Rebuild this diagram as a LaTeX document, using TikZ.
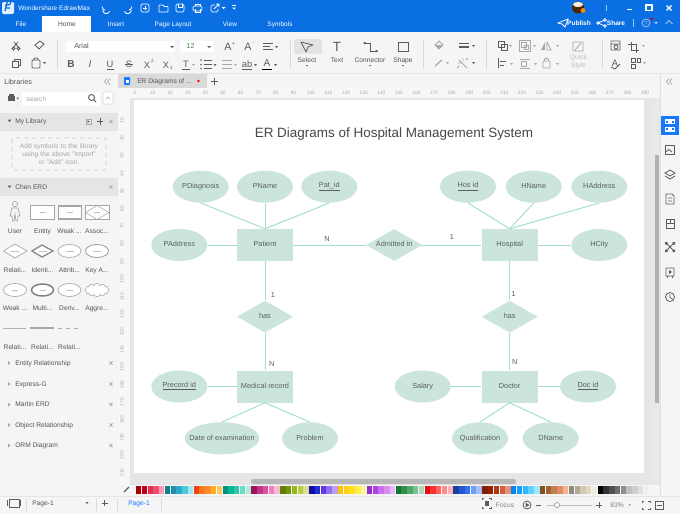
\documentclass[tikz,border=0pt]{standalone}
\usepackage{fontspec}
\setmainfont{Liberation Sans}
\usetikzlibrary{shapes.geometric,shapes.symbols}
\newcommand{\elps}{.{}.{}.}
\newcommand{\lbl}[1]{\makebox[0pt]{\raisebox{-0.6pt}{\vphantom{Pg}#1}}}
\definecolor{bluebar}{HTML}{0A6FE3}
\definecolor{selblue}{HTML}{1677FF}
\definecolor{panel}{HTML}{F5F5F5}
\definecolor{canvasgray}{HTML}{E6E6E6}
\definecolor{erfill}{HTML}{CBE5DE}
\definecolor{erline}{HTML}{A3DDCD}
\definecolor{ertext}{HTML}{5A5F5E}
\definecolor{uitext}{HTML}{555555}
\definecolor{icon}{HTML}{5C5C5C}
\definecolor{iconlight}{HTML}{A8A8A8}
\tikzset{
  x=0.75pt,y=-0.75pt,
  attrib/.style={ellipse,fill=erfill,minimum width=42pt,minimum height=24pt,inner sep=0pt,text=ertext,font=\fontsize{5.5}{6.5}\selectfont},
  wideattrib/.style={attrib,minimum width=56pt},
  entity/.style={rectangle,fill=erfill,minimum width=42pt,minimum height=24pt,inner sep=0pt,text=ertext,font=\fontsize{5.5}{6.5}\selectfont},
  relation/.style={diamond,aspect=1.75,fill=erfill,minimum width=42pt,minimum height=24pt,inner sep=0pt,text=ertext,font=\fontsize{5.5}{6.5}\selectfont},
  link/.style={draw=erline,line width=0.7pt},
  card/.style={text=ertext,font=\fontsize{5.5}{6.5}\selectfont,inner sep=0pt},
  whitelab/.style={text=white,font=\fontsize{4.9}{6}\selectfont,inner sep=0pt,text height=3.6pt,text depth=0.4pt},
  uilab/.style={text=uitext,font=\fontsize{5}{6}\selectfont,inner sep=0pt,text height=3.6pt,text depth=0.4pt},
  leftlab/.style={uilab,anchor=west},
  rulerlab/.style={text=iconlight,font=\fontsize{3.6}{4}\selectfont,inner sep=0pt},
  ic/.style={draw=icon,line width=0.6pt,fill=none},
  icl/.style={draw=iconlight,line width=0.6pt,fill=none},
  icw/.style={draw=white,line width=0.6pt,fill=none},
  sep/.style={draw=black!15,line width=0.4pt},
  glyph/.style={text=icon,inner sep=0pt,font=\fontsize{7}{8}\selectfont},
  thin sym/.style={draw=black!35,line width=0.5pt,fill=white},
}
\begin{document}
\begin{tikzpicture}
\useasboundingbox (0,0) rectangle (680,514);
% ---------- window base
\fill[panel] (0,0) rectangle (680,514);
\fill[canvasgray] (130,98) rectangle (660,497);
\fill[white] (134,100) rectangle (644,473);
% vertical scroll
\fill[black!9] (651,98) rectangle (660,480);
\fill[black!30] (655,155) rectangle (659,403);
% horizontal scroll
\fill[black!28,rounded corners=1.5pt] (251,479) rectangle (516,484);
% ---------- blue bar
\fill[bluebar] (0,0) rectangle (680,32);
\fill[white] (42,16) rectangle (91,32);
\fill[white!88!bluebar,rounded corners=1pt] (2,2) rectangle (14,14);
\draw[draw=bluebar,line width=1pt] (5,5) -- (8,5) arc (90:-90:3) -- (5,11) (6,8) -- (10,8);
\node[whitelab,anchor=west] (tapp) at (18,8) {Wondershare EdrawMax};
\foreach \t/\px [count=\i] in {File/21,Insert/116,Page Layout/173,View/230,Symbols/280}
  \node[whitelab] (tab\i) at (\px,24) {\t};
\node[uilab] (tabhome) at (67,24) {Home};
% quick access icons
\draw[icw] (103,9) arc (200:20:3.5) (103,9) -- (105,10) (103,9) -- (102,6.5);
\draw[icw] (131,9) arc (-20:160:3.5) (131,9) -- (129,10) (131,9) -- (132,6.5);
\draw[icw,rounded corners=1pt] (141,4) rectangle (149,12);
\draw[icw] (143,8) -- (147,8) (145,6) -- (145,10);
\draw[icw,rounded corners=0.5pt] (159,5) -- (163,5) -- (164,6.5) -- (168,6.5) -- (168,12) -- (159,12) -- cycle;
\draw[icw,rounded corners=1pt] (176,4) rectangle (184,12);
\draw[icw] (178,4) -- (178,7) -- (182,7) -- (182,4);
\draw[icw,rounded corners=1pt] (193,6) rectangle (202,11);
\draw[icw] (195,6) -- (195,4) -- (200,4) -- (200,6) (195,9) -- (195,12) -- (200,12) -- (200,9);
\draw[icw,rounded corners=1pt] (215,5) -- (211,5) -- (211,12) -- (218,12) -- (218,9);
\draw[icw] (214,9) -- (219,4) (216,4) -- (219,4) -- (219,7);
\fill[white] (221.5,7) -- (225.5,7) -- (223.5,9) -- cycle;
\fill[white] (232,7.5) -- (236,7.5) -- (234,9.5) -- cycle;
\draw[icw] (232,5.5) -- (236,5.5);
% user
\fill[black!70!orange] (578,7.5) circle[radius=6];
\fill[white!85!orange] (578,4.5) ellipse[x radius=5,y radius=2.6];
\fill[orange!90!yellow] (583,10.5) circle[radius=2.4];
% window controls
\draw[draw=white!60!bluebar,line width=0.6pt] (606,5) -- (606,11);
\draw[draw=white,line width=0.9pt] (627,9.5) -- (632,9.5);
\draw[draw=white,line width=0.8pt] (646,5) rectangle (652,10.5);
\draw[draw=white,line width=0.9pt] (666.5,5.5) -- (671.5,10.5) (671.5,5.5) -- (666.5,10.5);
% publish etc
\draw[icw] (558,23) -- (568,19) -- (565,27) -- (562,24) -- cycle;
\node[whitelab,font=\bfseries\fontsize{4.9}{6}\selectfont] (tpub) at (579,23) {Publish};
\draw[icw] (598,23) -- (605,20) (598,23) -- (605,26);
\draw[icw] (598,23) circle[radius=1.4] (605,20) circle[radius=1.4] (605,26) circle[radius=1.4];
\node[whitelab,font=\bfseries\fontsize{4.9}{6}\selectfont] (tshare) at (616,23) {Share};
\draw[draw=white!60!bluebar,line width=0.6pt] (633,19) -- (633,27);
\draw[draw=white!60!bluebar,line width=0.6pt] (646,23) circle[radius=4];
\node[rulerlab,font=\fontsize{4.5}{5}\selectfont,text=white!60!bluebar] (tq) at (646,23) {?};
\fill[red!85!black] (651.5,19) circle[radius=1.5];
\fill[white!70!bluebar] (654,22) -- (658,22) -- (656,24) -- cycle;
\draw[draw=white!60!bluebar,line width=0.7pt] (665.5,24) -- (669,20.5) -- (672.5,24);
% ---------- ribbon
\fill[panel] (0,32) rectangle (680,73);
\draw[draw=black!10,line width=0.4pt] (0,73) -- (680,73);
\foreach \sx in {57,290,423,486,602} \draw[sep] (\sx,40) -- (\sx,69);
% clipboard icons
\draw[ic] (14,42) -- (19,48) (18,42) -- (13,48) (13.5,48.5) circle[radius=1.5] (18.5,48.5) circle[radius=1.5];
\draw[ic] (35,45) -- (40,41) -- (44,44) -- (39,49) -- cycle (39,49) -- (37,47);
\draw[ic] (12,61) rectangle (18,67) (14,61) -- (14,59) -- (20,59) -- (20,65) -- (18,65);
\draw[ic,rounded corners=0.7pt] (32,60) rectangle (40,68) (34,60) -- (34,58) -- (38,58) -- (38,60);
\fill[icon] (43,62) -- (46,62) -- (44.5,64) -- cycle;
% font boxes
\fill[white] (67,41) rectangle (175,52);
\fill[white] (180,41) rectangle (214,52);
\node[leftlab,font=\fontsize{5.4}{7}\selectfont] (ffont) at (74,46.5) {Arial};
\node[uilab,font=\fontsize{5.4}{7}\selectfont,text=black!45!green!40!gray] (fsize) at (190.5,46.5) {12};
\fill[icon] (170,46) -- (174,46) -- (172,48) -- cycle;
\fill[icon] (207,46) -- (211,46) -- (209,48) -- cycle;
\node[glyph,font=\fontsize{8}{9}\selectfont] (fa1) at (228,47) {A};
\node[glyph,font=\fontsize{4}{5}\selectfont] (fa1p) at (233.5,43.5) {+};
\node[glyph,font=\fontsize{8}{9}\selectfont] (fa2) at (248,47) {A};
\node[glyph,font=\fontsize{4}{5}\selectfont] (fa2p) at (253,43.5) {-};
\draw[ic] (263,43.5) -- (273,43.5) (263,46.5) -- (270,46.5) (263,49.5) -- (273,49.5);
\fill[icon] (275,46) -- (278,46) -- (276.5,48) -- cycle;
\node[glyph,font=\bfseries\fontsize{7.5}{9}\selectfont] (fb) at (71,64.5) {B};
\node[glyph,font=\itshape\fontsize{7.5}{9}\selectfont] (fi) at (90,64.5) {I};
\node[glyph,font=\fontsize{7}{9}\selectfont] (fu) at (110,64) {U};
\draw[ic] (106.5,69) -- (113.5,69);
\node[glyph,font=\fontsize{7}{9}\selectfont] (fs) at (129,64.5) {S};
\draw[ic] (125,64.5) -- (133,64.5);
\node[glyph,font=\fontsize{7}{9}\selectfont,text=icon] (fx1) at (147,65) {X};
\node[glyph,font=\fontsize{3.5}{4}\selectfont] (fx1s) at (152.5,61) {2};
\node[glyph,font=\fontsize{7}{9}\selectfont,text=icon] (fx2) at (166,65) {X};
\node[glyph,font=\fontsize{3.5}{4}\selectfont] (fx2s) at (171.5,68) {2};
\node[glyph,font=\fontsize{7}{9}\selectfont] (ft) at (186,64) {T};
\draw[ic] (182,69) -- (190,69);
\fill[iconlight] (192,64) -- (195,64) -- (193.5,66) -- cycle;
\draw[ic] (204,60.5) -- (212,60.5) (204,64.5) -- (212,64.5) (204,68.5) -- (212,68.5);
\fill[icon] (201,60) circle[radius=0.8] (201,64.5) circle[radius=0.8] (201,68.5) circle[radius=0.8];
\fill[icon] (213.5,64) -- (216.5,64) -- (215,66) -- cycle;
\draw[icl] (222,60.5) -- (232,60.5) (222,64.5) -- (232,64.5) (222,68.5) -- (232,68.5);
\fill[iconlight] (234,64) -- (237,64) -- (235.5,66) -- cycle;
\node[glyph,font=\fontsize{7}{9}\selectfont] (fab) at (247,64) {ab};
\draw[draw=icon,line width=1pt] (242,69.5) -- (252,69.5);
\fill[icon] (254,64) -- (257,64) -- (255.5,66) -- cycle;
\node[glyph,font=\fontsize{7.5}{9}\selectfont] (fcol) at (267,63.5) {A};
\draw[draw=black,line width=1pt] (262,69.5) -- (272,69.5);
\fill[icon] (274,64) -- (277,64) -- (275.5,66) -- cycle;
% main tools
\fill[black!11,rounded corners=1pt] (294,39) rectangle (322,54);
\fill[black!4] (294,54) rectangle (322,68);
\draw[ic,line join=round] (301,42) -- (313,45) -- (308,47) -- (306,52) -- cycle;
\node[uilab] (lsel) at (307,60) {Select};
\fill[icon] (306,65) -- (308,65) -- (307,66.5) -- cycle;
\node[glyph,font=\fontsize{10}{11}\selectfont] (ltxt) at (337,47) {T};
\node[uilab] (ltext) at (337,60) {Text};
\draw[ic] (365,43) -- (370,43) -- (370,51) -- (376,51);
\fill[icon] (363.5,42) rectangle (365.5,44) (375.5,50) rectangle (377.5,52);
\node[uilab] (lconn) at (370,60) {Connector};
\fill[icon] (369,65) -- (371,65) -- (370,66.5) -- cycle;
\draw[ic,line width=0.7pt] (398,42) rectangle (408,51);
\node[uilab] (lshape) at (403,60) {Shape};
\fill[icon] (402,65) -- (404,65) -- (403,66.5) -- cycle;
% style icons (grey)
\draw[icl] (435,45) -- (439,41) -- (443,45) -- (439,49) -- cycle;
\fill[iconlight] (435,45) -- (443,45) -- (439,49) -- cycle;
\draw[icon] (459,43) -- (469,43);
\draw[icon,line width=0.9pt] (459,47) -- (469,47);
\fill[icon] (472,45) -- (475,45) -- (473.5,47) -- cycle;
\draw[iconlight,line width=0.9pt] (435,66) -- (442,60);
\fill[iconlight] (446,62) -- (449,62) -- (447.5,64) -- cycle;
\draw[icl] (459,60) -- (467,68) (463,58) -- (463,61) (458,63) -- (461,63) (466,60) -- (468,58) (459,66) -- (457,68);
\fill[icon] (472,62) -- (475,62) -- (473.5,64) -- cycle;
% arrange icons
\draw[ic,line width=0.7pt] (498,41) rectangle (504,47) (501,44) rectangle (507,50);
\draw[icl] (519,40) rectangle (530,51) (521,42) rectangle (526,47) (524,45) rectangle (528,49);
\fill[iconlight] (541,50) -- (545,42) -- (545,50) -- cycle;
\draw[icl] (547,42) -- (551,50) -- (547,50) -- cycle;
\draw[ic] (498,58) -- (498,68) (500,61) -- (506,61) (500,65) -- (504,65);
\draw[icl] (520,59) -- (530,59) (520,68) -- (530,68);
\draw[icl] (521,61) rectangle (526,66);
\draw[icl,rounded corners=0.5pt] (543,61) rectangle (550,68) (544.5,61) -- (544.5,58.5) -- (548.5,58.5) -- (548.5,61);
\foreach \ax/\ay in {509/45,533/45,556/45,510/63,534/63,556/63} \fill[iconlight] (\ax,\ay) -- (\ax+3,\ay) -- (\ax+1.5,\ay+2) -- cycle;
% quick style
\draw[icl] (573,42) rectangle (583,51) (575,50) -- (581,43);
\node[uilab,text=black!25] (lqs1) at (578.5,57) {Quick};
\node[uilab,text=black!25] (lqs2) at (578.5,65) {Style};
% right group
\draw[ic] (611,41) rectangle (620,50) (611,44) -- (620,44) (616,47) circle[radius=2];
\draw[ic,line width=0.7pt] (631,42) -- (631,50) -- (639,50) (628,44) -- (636,44) -- (636,53);
\fill[iconlight] (642,45) -- (645,45) -- (643.5,47) -- cycle;
\node[glyph] (fa3) at (615,63) {A};
\draw[ic] (611,67) -- (615,69) -- (620,64);
\draw[ic] (631,58) rectangle (635,62) (631,64) rectangle (635,68) (637,58) rectangle (640,62);
\fill[iconlight] (643,62) -- (646,62) -- (644.5,64) -- cycle;
% ---------- tab strip
\fill[panel] (118,74) rectangle (660,88);
\fill[black!15] (118,74) rectangle (207,88);
\fill[selblue,rounded corners=0.7pt] (124,77) rectangle (130,85);
\fill[white] (125.5,80) rectangle (128.5,83);
\node[uilab,anchor=west,font=\fontsize{5}{6}\selectfont] (tabdoc) at (137,81) {ER Diagrams of \elps};
\fill[red] (198.5,81) circle[radius=1.4];
\draw[draw=icon,line width=0.6pt] (210.5,81) -- (217.5,81) (214,77.5) -- (214,84.5);
% ---------- rulers
\fill[white!97!black] (130,88) rectangle (651,98);
\fill[white!97!black] (118,88) rectangle (130,497);
\foreach \v [evaluate=\v as \xx using 135+\v*1.759] in {0,10,...,290}
  \node[rulerlab] (rt\v) at (\xx,92.5) {\v};
\foreach \v [evaluate=\v as \yy using 103+\v*1.76] in {10,20,...,210}
  \node[rulerlab,rotate=90] (rl\v) at (122,\yy) {\v};
% ---------- left panel
\node[leftlab,font=\fontsize{5.4}{7}\selectfont] (llib) at (4,82) {Libraries};
\draw[draw=iconlight,line width=0.5pt] (107,78.5) -- (104.5,81.5) -- (107,84.5) (110,78.5) -- (107.5,81.5) -- (110,84.5);
\fill[icon] (8,96) rectangle (15,101);
\fill[icon] (9,94) rectangle (14,96);
\fill[icon] (16.5,97.5) -- (19,97.5) -- (17.7,99.5) -- cycle;
\fill[white] (22,92) rectangle (100,106);
\node[leftlab,text=iconlight,font=\fontsize{5}{6}\selectfont] (lsearch) at (26,99) {search};
\draw[ic,line width=0.7pt] (91.5,97.5) circle[radius=3] (93.5,99.5) -- (96,102);
\draw[draw=black!15,fill=white,line width=0.4pt,rounded corners=1pt] (103,92) rectangle (113,104);
\draw[icl,line width=0.4pt] (106,99) -- (108,97) -- (110,99);
\fill[black!10] (0,113) rectangle (118,131);
\fill[black!10] (0,178) rectangle (118,196);
\fill[icon] (7.5,119.5) -- (11.5,119.5) -- (9.5,122) -- cycle;
\fill[icon] (7.5,185.5) -- (11.5,185.5) -- (9.5,188) -- cycle;
\node[leftlab] (lmy) at (15,121.5) {My Library};
\node[leftlab] (lchen) at (15,187) {Chen ERD};
\draw[icl,line width=0.4pt] (86,119) rectangle (91,124);
\fill[icon] (87.5,120) -- (89.5,121.5) -- (87.5,123) -- cycle;
\draw[draw=icon,line width=0.4pt] (96.5,121.5) -- (103,121.5) (99.8,118.3) -- (99.8,124.7);
\foreach \cy in {121.5,187,363,384,404.5,425,445.5}
  \draw[draw=iconlight,line width=0.5pt] (109.5,\cy-1.7) -- (112.5,\cy+1.7) (112.5,\cy-1.7) -- (109.5,\cy+1.7);
\draw[draw=black!22,dashed,line width=0.5pt,rounded corners=1pt] (12,138) rectangle (106,170);
\node[text=black!35,inner sep=0pt,align=center,font=\fontsize{5}{6.2}\selectfont,text width=90pt] (lhint) at (59,154) {Add symbols to the library\\using the above "Import"\\or "Add" icon.};
% symbol palette
\draw[draw=black!40,line width=0.4pt] (15,204) circle[radius=2.6] (12,208) -- (18,208) -- (20,216) -- (18,216) -- (17.5,221) -- (16,221) -- (15,214) -- (14,221) -- (12.5,221) -- (12,216) -- (10,216) -- cycle;
\draw[thin sym] (30.5,205.5) rectangle (54.5,219.5);
\draw[draw=black!35,line width=1.2pt,fill=white] (58.5,206) rectangle (81.5,219);
\draw[thin sym] (85.5,205.5) rectangle (109,219.5);
\draw[draw=black!35,line width=0.4pt] (85.5,212.5) -- (97,205.5) -- (109,212.5) -- (97,219.5) -- cycle;
\foreach \tx in {42.5,70,97} \draw[draw=black!25,line width=0.4pt] (\tx-3,212.5) -- (\tx+3,212.5);
\foreach \lab/\lx [count=\i] in {User/15,Entity/42.5,Weak \elps/69.5,Assoc\elps/97}
  \node[uilab] (ls\i) at (\lx,231) {\lab};
\draw[thin sym] (3.5,251) -- (15,244) -- (27,251) -- (15,258) -- cycle;
\draw[draw=black!45,line width=1pt,fill=white] (32,251) -- (42,245) -- (53,251) -- (42,257) -- cycle;
\draw[thin sym] (69.5,251) ellipse[x radius=11.5,y radius=6.5];
\draw[draw=black!35,line width=0.7pt,fill=white] (97,251) ellipse[x radius=11.5,y radius=6.5];
\foreach \tx in {15,42.5,69.5,97} \draw[draw=black!25,line width=0.4pt] (\tx-4,251) -- (\tx+4,251);
\foreach \lab/\lx [count=\i] in {Relati\elps/15,Identi\elps/42.5,Attrib\elps/69.5,Key A\elps/97}
  \node[uilab] (lt\i) at (\lx,270) {\lab};
\draw[thin sym] (15,290) ellipse[x radius=11.5,y radius=6.5];
\draw[draw=black!50,line width=1.1pt,fill=white] (42.5,290) ellipse[x radius=11,y radius=6];
\draw[draw=black!35,line width=0.5pt,fill=white] (69.5,290) ellipse[x radius=11.5,y radius=6.5];
\node[cloud,cloud puffs=12,draw=black!35,line width=0.4pt,fill=white,minimum width=18pt,minimum height=10pt,inner sep=0pt] (lcloud) at (97,290) {};
\foreach \tx in {15,42.5,69.5} \draw[draw=black!25,line width=0.4pt] (\tx-3,290) -- (\tx+3,290);
\foreach \lab/\lx [count=\i] in {Weak \elps/15,Multi\elps/42.5,Deriv\elps/69.5,Aggre\elps/97}
  \node[uilab] (lu\i) at (\lx,308) {\lab};
\draw[draw=black!30,line width=0.6pt] (3,328) -- (26,328);
\draw[draw=black!35,line width=1.6pt] (30,328) -- (54,328);
\draw[draw=black!30,line width=0.6pt,dashed] (58,328) -- (81,328);
\foreach \lab/\lx [count=\i] in {Relati\elps/15,Relati\elps/42.5,Relati\elps/69.5}
  \node[uilab] (lv\i) at (\lx,347) {\lab};
\foreach \lab/\cy [count=\i] in {Entity Relationship/363,Express-G/384,Martin ERD/404.5,Object Relationship/425,ORM Diagram/445.5}{
  \fill[iconlight] (8,\cy-2) -- (10.5,\cy) -- (8,\cy+2) -- cycle;
  \node[leftlab] (lw\i) at (15,\cy) {\lab};
}
% ---------- right panel
\fill[panel] (660.5,73.5) rectangle (680,497);
\draw[draw=black!12,line width=0.4pt] (660.5,73.5) -- (660.5,497);
\draw[draw=iconlight,line width=0.5pt] (669,78.5) -- (666.5,81.5) -- (669,84.5) (672,78.5) -- (669.5,81.5) -- (672,84.5);
\fill[selblue] (661,116) rectangle (679,135);
\draw[icw,line width=0.8pt] (665.5,120) rectangle (669,123.5) (671,120) rectangle (674.5,123.5) (665.5,127.5) rectangle (669,131) (671,127.5) rectangle (674.5,131);
\draw[ic] (665.5,145.5) rectangle (674.5,154.5) (665.5,152) -- (669,149.5) -- (672,152);
\draw[ic] (665,173) -- (670,170) -- (675,173) -- (670,176) -- cycle (665,176) -- (670,179) -- (675,176);
\draw[ic] (666,194) -- (672,194) -- (674,196) -- (674,204) -- (666,204) -- cycle (668,198) -- (672,198) (668,201) -- (672,201);
\draw[ic] (666,219) rectangle (670,223) (666,223) rectangle (674,228) (670,219) rectangle (674,223);
\draw[ic] (666,243) -- (674,251) (674,243) -- (666,251);
\fill[icon] (665,242) rectangle (667.5,244.5) (672.5,242) rectangle (675,244.5) (665,249.5) rectangle (667.5,252) (672.5,249.5) rectangle (675,252);
\draw[ic] (666,268) rectangle (674,276) (668,276) -- (667,278) (672,276) -- (673,278);
\fill[icon] (669,270) -- (672,272) -- (669,274) -- cycle;
\draw[ic] (670,297) circle[radius=4.5] (670,294) -- (670,297.5) -- (672.5,299);
% ---------- status bar
\fill[panel] (118,484.5) rectangle (660,497);
\fill[panel] (0,497) rectangle (680,514);
\draw[draw=black!10,line width=0.4pt] (0,496.5) -- (680,496.5);
\draw[ic,line width=0.7pt] (9,499) rectangle (19,507) (7.5,500) -- (7.5,506) (20.5,500) -- (20.5,506);
\draw[sep] (26,499) -- (26,511) (96,499) -- (96,511) (117,499) -- (117,511);
\node[leftlab] (lpage) at (32,503) {Page-1};
\fill[icon] (85.5,502) -- (88.5,502) -- (87,504) -- cycle;
\draw[draw=icon,line width=0.6pt] (101.5,503) -- (107.5,503) (104.5,500) -- (104.5,506);
\node[leftlab,text=selblue] (lpagetwo) at (128,503.5) {Page-1};
\draw[sep] (161,499) -- (161,511);
% palette
\draw[draw=icon,line width=1pt] (124,492) -- (129,487);
\foreach \c [count=\i from 0, evaluate=\i as \xx using 136+\i*5.77] in {A80000,C00020,E0304A,F04C6E,FF9CB4,0F7F8F,2090A8,30A8C8,50C8E0,A0E8F8,F04010,F87820,FF8C30,FFB020,FFC860,009080,00B898,30C8A8,70DCC0,B0ECD8,A01060,C03888,E050A0,F080C0,F8B8D8,608000,709810,98B818,B8CC50,D8E090,1010A0,2030D0,6038F0,9070F0,B8A0F0,FFC000,FFD010,FFE020,FFF050,FFF890,9030D0,B040E0,C870F0,D890F0,E8B8F8,107830,309048,50A868,78C090,A8D8B8,E01010,FF3030,FF6060,FF8888,FFB0B0,1840A0,2058D0,3070E8,70A0F0,A0C0F8,802000,982000,B03810,D06040,E89070,0088F0,10A0FF,30B8FF,60D0FF,A0E8FF,805020,A06030,C08050,E09060,F8B090,908878,B0A898,D0C8B0,E0D8C0,F0ECD8,000000,303030,505050,707070,909090,C0C0C0,D0D0D0,E0E0E0,F0F0F0}{
  \definecolor{sw}{HTML}{\c}
  \fill[sw] (\xx,486) rectangle (\xx+5.4,494);
}
% status right
\draw[ic] (482,500) -- (482,498.5) -- (484,498.5) (489,498.5) -- (491,498.5) -- (491,500) (491,507) -- (491,508.5) -- (489,508.5) (484,508.5) -- (482,508.5) -- (482,507);
\fill[icon] (484.5,501) rectangle (488.5,506);
\node[uilab,text=black!50] (lfocus) at (505,505) {Focus};
\draw[ic] (527,505) circle[radius=4];
\fill[icon] (525.5,502.8) -- (529.5,505) -- (525.5,507.2) -- cycle;
\draw[draw=icon,line width=0.7pt] (535.5,505) -- (540.5,505);
\draw[draw=black!25,line width=0.7pt] (547,505) -- (592,505);
\draw[draw=black!40,line width=0.5pt,fill=white] (557,505) circle[radius=2.6];
\draw[draw=icon,line width=0.7pt] (596,505) -- (602,505) (599,502) -- (599,508);
\node[uilab,text=black!50] (lzoom) at (617,505) {83\%};
\fill[iconlight] (628.5,504) -- (631,504) -- (629.8,506) -- cycle;
\draw[ic] (642,502.5) -- (642,501) -- (644,501) (648,501) -- (650,501) -- (650,502.5) (650,507.5) -- (650,509) -- (648,509) (644,509) -- (642,509) -- (642,507.5);
\draw[ic] (655,501) rectangle (663,509) (656.5,505) -- (661.5,505);
% ---------- diagram
\node[text=black!72,font=\fontsize{10.1}{12}\selectfont,inner sep=0pt] (title) at (394,134.5) {\vphantom{Pg}ER Diagrams of Hospital Management System};
\node[attrib] (pdiag) at (200.7,186.7) {\lbl{PDiagnosis}};
\node[attrib] (pname) at (265,186.7) {\lbl{PName}};
\node[attrib] (patid) at (329.3,186.7) {\lbl{\underline{Pat\_id}}};
\node[attrib] (paddr) at (179.3,245) {\lbl{PAddress}};
\node[entity] (patient) at (265,245) {\lbl{Patient}};
\node[relation] (admit) at (394.2,245) {\lbl{Admitted in}};
\node[entity] (hosp) at (509.7,245) {\lbl{Hospital}};
\node[attrib] (hosid) at (468,186.7) {\lbl{\underline{Hos id}}};
\node[attrib] (hname) at (533.7,186.7) {\lbl{HName}};
\node[attrib] (haddr) at (599.3,186.7) {\lbl{HAddress}};
\node[attrib] (hcity) at (599.3,245) {\lbl{HCity}};
\node[relation] (has1) at (265,316.7) {\lbl{has}};
\node[relation] (has2) at (509.7,316.7) {\lbl{has}};
\node[entity] (medrec) at (265,386.5) {\lbl{Medical record}};
\node[entity] (doctor) at (509.7,386.5) {\lbl{Doctor}};
\node[attrib] (precid) at (179.3,386.5) {\lbl{\underline{Precord id}}};
\node[wideattrib] (dateex) at (222,438.3) {\lbl{Date of examination}};
\node[attrib] (problem) at (310,438.3) {\lbl{Problem}};
\node[attrib] (salary) at (422.7,386.5) {\lbl{Salary}};
\node[attrib] (docid) at (588,386.5) {\lbl{\underline{Doc id}}};
\node[attrib] (qual) at (480,438.3) {\lbl{Qualification}};
\node[attrib] (dname) at (550.7,438.3) {\lbl{DName}};
\draw[link] (pdiag.south) -- (patient.north);
\draw[link] (pname.south) -- (patient.north);
\draw[link] (patid.south) -- (patient.north);
\draw[link] (paddr.east) -- (patient.west);
\draw[link] (patient.east) -- (admit.west);
\draw[link] (admit.east) -- (hosp.west);
\draw[link] (hosid.south) -- (hosp.north);
\draw[link] (hname.south) -- (hosp.north);
\draw[link] (haddr.south) -- (hosp.north);
\draw[link] (hosp.east) -- (hcity.west);
\draw[link] (patient.south) -- (has1.north);
\draw[link] (has1.south) -- (medrec.north);
\draw[link] (hosp.south) -- (has2.north);
\draw[link] (has2.south) -- (doctor.north);
\draw[link] (precid.east) -- (medrec.west);
\draw[link] (medrec.south) -- (dateex.north);
\draw[link] (medrec.south) -- (problem.north);
\draw[link] (salary.east) -- (doctor.west);
\draw[link] (doctor.east) -- (docid.west);
\draw[link] (doctor.south) -- (qual.north);
\draw[link] (doctor.south) -- (dname.north);
\node[card] (c1) at (327,238.5) {N};
\node[card] (c2) at (452,237) {1};
\node[card] (c3) at (273,294.5) {1};
\node[card] (c4) at (271.7,363.5) {N};
\node[card] (c5) at (513.7,293.5) {1};
\node[card] (c6) at (514.7,362) {N};
\end{tikzpicture}
\end{document}
